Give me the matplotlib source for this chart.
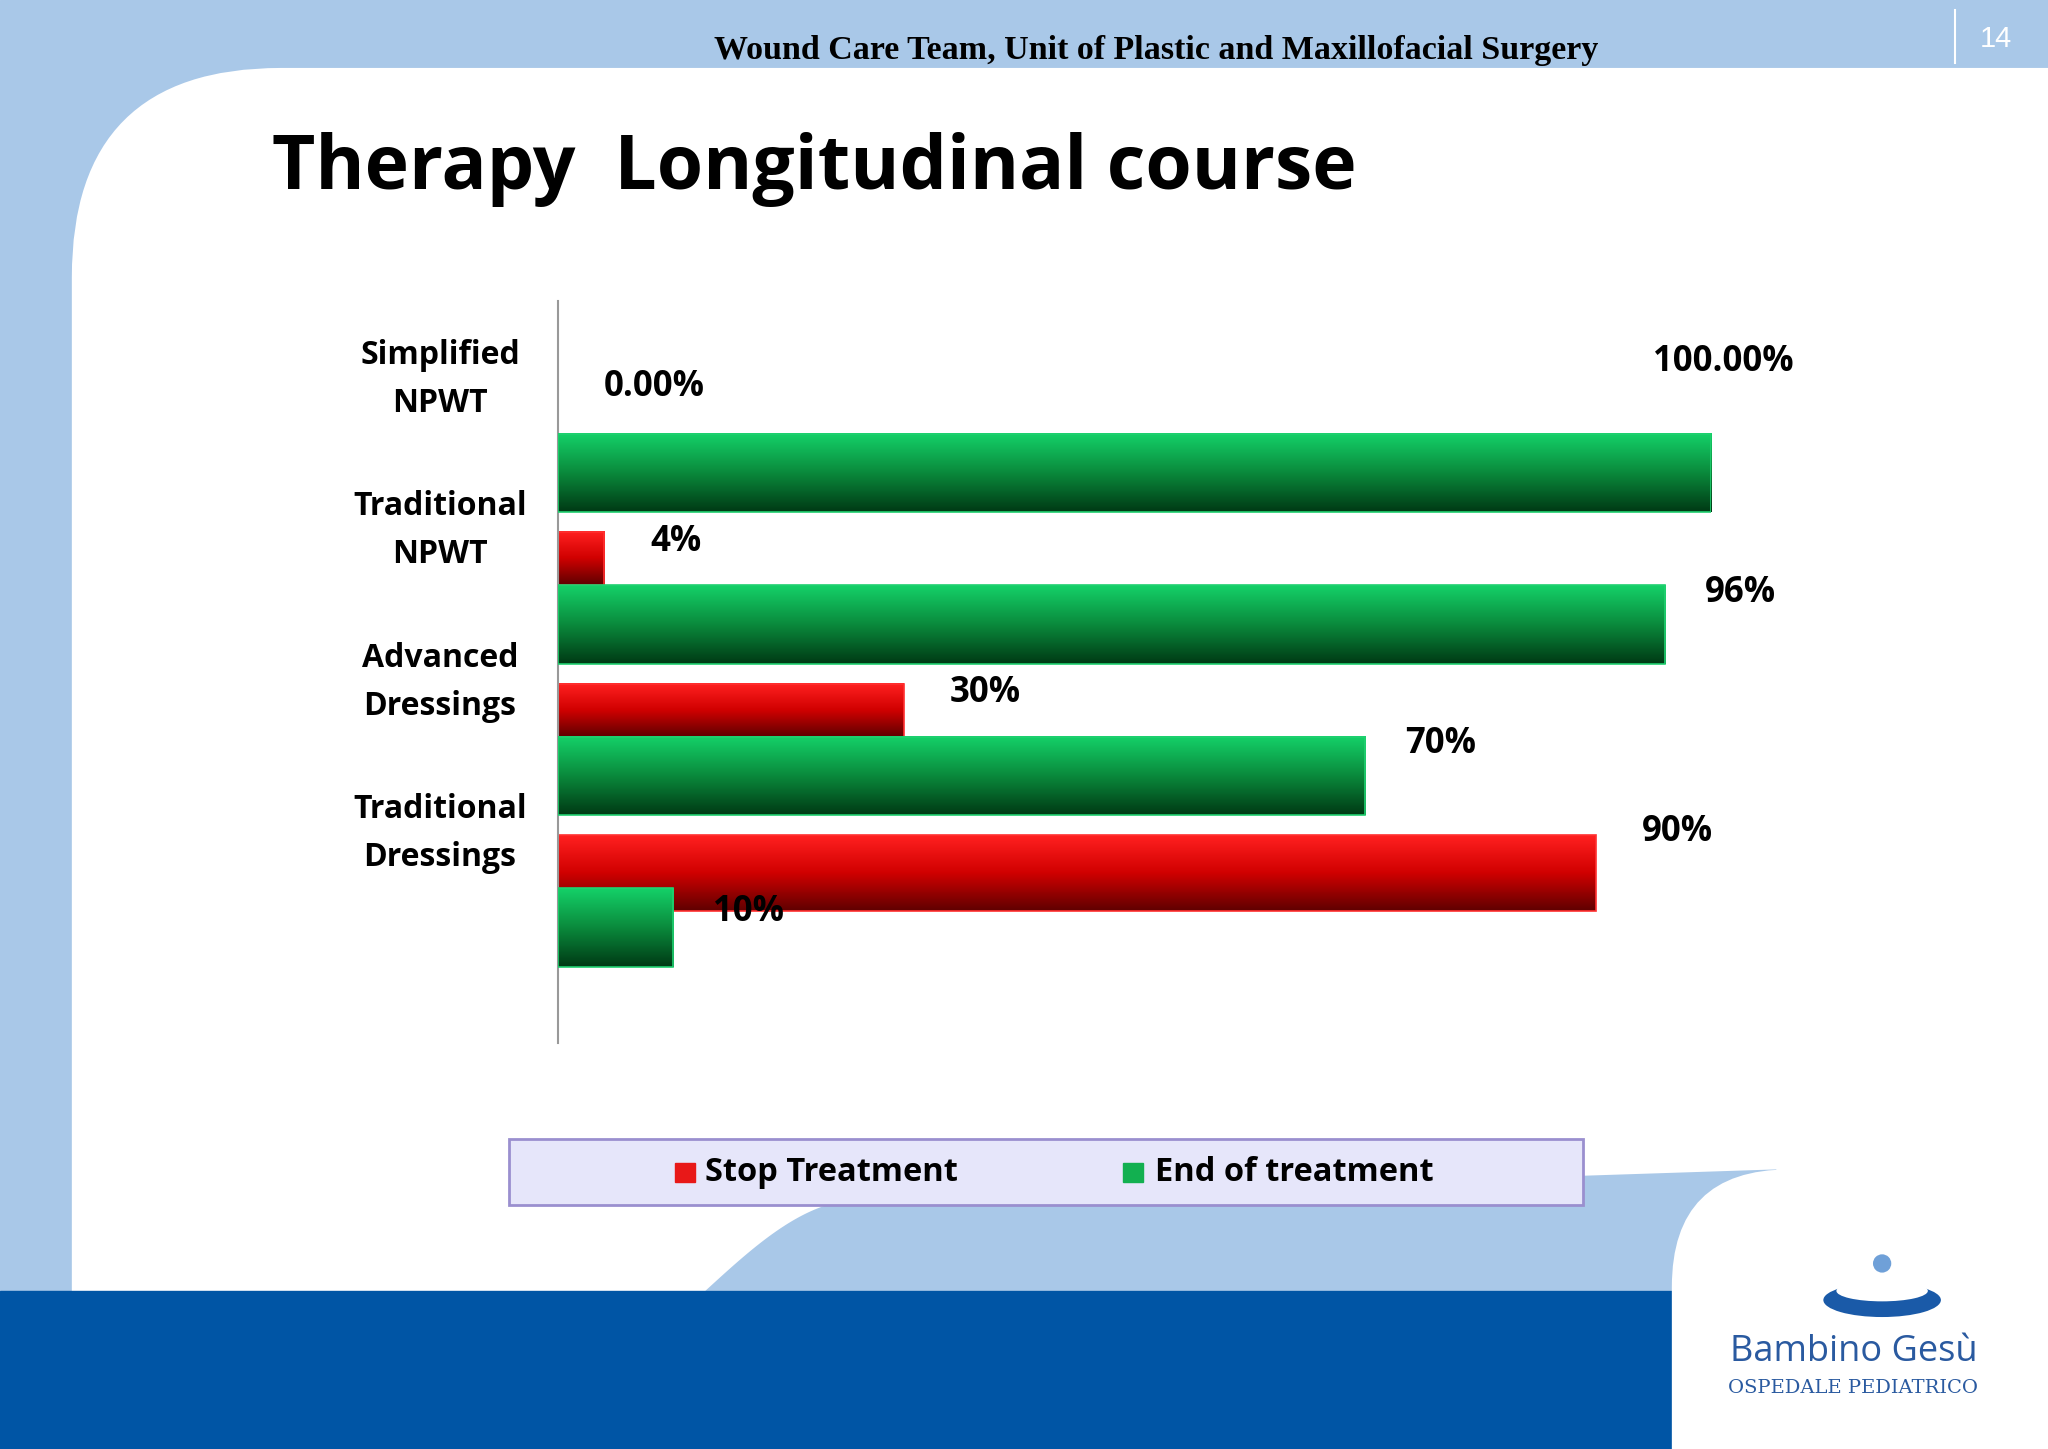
import numpy as np
import matplotlib
matplotlib.use("Agg")
from matplotlib import pyplot as plt
from matplotlib.patches import FancyBboxPatch, Rectangle, Ellipse, Polygon
from matplotlib.colors import LinearSegmentedColormap

categories = ["Simplified\nNPWT", "Traditional\nNPWT", "Advanced\nDressings", "Traditional\nDressings"]
stop_vals = [0, 4, 30, 90]
end_vals = [100, 96, 70, 10]
stop_labels = ["0.00%", "4%", "30%", "90%"]
end_labels = ["100.00%", "96%", "70%", "10%"]

W, H = 1568, 1109
fig = plt.figure(figsize=(20.48, 14.49), dpi=100)

# background layer in reference pixel coords
bg = fig.add_axes([0, 0, 1, 1])
bg.set_xlim(0, W)
bg.set_ylim(H, 0)
bg.axis("off")
bg.add_patch(Rectangle((0, 0), W, H, color="#a9c8e8"))
bg.add_patch(FancyBboxPatch((55 + 160, 52 + 160), W - 215 + 200, 988 - 212,
                            boxstyle="round,pad=160", color="white", ec="none"))
# light blue hill at bottom
t = np.linspace(0, 1, 50)
hx = np.concatenate([540 + 120 * t, 660 + 700 * t, [1360, 540]])
hy = np.concatenate([988 - 70 * np.sin(t * np.pi / 2), 918 - 23 * t, [988, 988]])
bg.add_patch(Polygon(np.column_stack([hx, hy]), color="#a9c8e8", ec="none"))
bg.add_patch(Rectangle((0, 988), W, H - 988, color="#0055a5"))
bg.add_patch(FancyBboxPatch((1280 + 90, 895 + 90), 400, 400,
                            boxstyle="round,pad=90", color="white", ec="none"))
bg.plot([1497, 1497], [8, 48], color="white", lw=1.5)
bg.text(1528, 30, "14", color="white", fontsize=21, ha="center", va="center", family="Liberation Sans")
bg.text(885, 39, "Wound Care Team, Unit of Plastic and Maxillofacial Surgery", fontsize=24.5,
        family="Liberation Serif", weight="bold", ha="center", va="center")
bg.text(208, 130, "Therapy  Longitudinal course", fontsize=54, family="Open Sans",
        weight="bold", ha="left", va="center")
# logo
bg.text(1419, 1035, "Bambino Gesù", fontsize=26, color="#2a5aa0", ha="center", va="center", family="Open Sans")
bg.text(1419, 1062, "OSPEDALE PEDIATRICO", fontsize=14, color="#2a5aa0", ha="center", va="center",
        family="DejaVu Serif")
bg.add_patch(Ellipse((1441, 995), 90, 26, color="#1a5aa8", ec="none"))
bg.add_patch(Ellipse((1441, 988), 70, 16, color="white", ec="none"))
bg.add_patch(Ellipse((1441, 967), 14, 14, color="#6fa0d8", ec="none"))

# legend box
bg.add_patch(Rectangle((390, 872), 822, 50, facecolor="#e6e6fa", edgecolor="#9a8fcf", lw=2))
bg.add_patch(Rectangle((517, 890), 15, 15, color="#e81818"))
bg.text(540, 897, "Stop Treatment", fontsize=23.5, weight="bold", family="Open Sans", va="center")
bg.add_patch(Rectangle((860, 890), 15, 15, color="#12b050"))
bg.text(884, 897, "End of treatment", fontsize=23.5, weight="bold", family="Open Sans", va="center")

# chart axes
ax = fig.add_axes([427 / W, 1 - 798 / H, (1310 - 427) / W, (798 - 230) / H])
ax.patch.set_alpha(0)
ax.set_xlim(0, 100)
ax.set_ylim(3.759, -1.138)
for s in ["top", "right", "bottom"]:
    ax.spines[s].set_visible(False)
ax.spines["left"].set_color("#999999")
ax.spines["left"].set_linewidth(1.5)
ax.set_xticks([])
ax.set_yticks([])

red_cm = LinearSegmentedColormap.from_list("r", ["#ff2020", "#d00000", "#600000"])
green_cm = LinearSegmentedColormap.from_list("g", ["#14d068", "#0a8a3c", "#003a15"])
grad = np.linspace(0, 1, 64).reshape(-1, 1)

gh, rh, roff = 0.52, 0.35, 0.435
y = np.arange(len(categories))


def grad_bar(x0, width, yc, h, cmap, edge, z):
    if width <= 0:
        return
    ax.imshow(grad, cmap=cmap, aspect="auto", extent=(x0, x0 + width, yc + h / 2, yc - h / 2), zorder=z)
    ax.add_patch(Rectangle((x0, yc - h / 2), width, h, fill=False, ec=edge, lw=1.2, zorder=z + 0.1))


for i in range(len(categories)):
    last = i == len(categories) - 1
    r_h = 0.5 if last else rh
    r_c = y[i] - 0.36 if last else y[i] - roff
    grad_bar(0, stop_vals[i], r_c, r_h, red_cm, "#ff3030", 2)
    grad_bar(0, end_vals[i], y[i], gh, green_cm, "#20d070", 3)
    s_dy = -0.27 if last else -0.11
    ax.text(stop_vals[i] + 4, r_c + s_dy, stop_labels[i], fontsize=25, weight="bold",
            family="Open Sans", va="center", clip_on=False)
    g_dy = -0.1 if last else -0.21
    ax.text(end_vals[i] + 3.5, y[i] + g_dy, end_labels[i], fontsize=25, weight="bold",
            family="Open Sans", va="center", clip_on=False, zorder=4)
    ax.text(-10.2, y[i] - 0.62, categories[i], fontsize=23, weight="bold", family="Open Sans",
            ha="center", va="center", linespacing=1.6, clip_on=False)
# first group labels sit higher
ax.texts[0].set_position((4, -0.57))
ax.texts[1].set_position((100 - 5, -0.73))

fig.savefig("out.png", dpi=100)
